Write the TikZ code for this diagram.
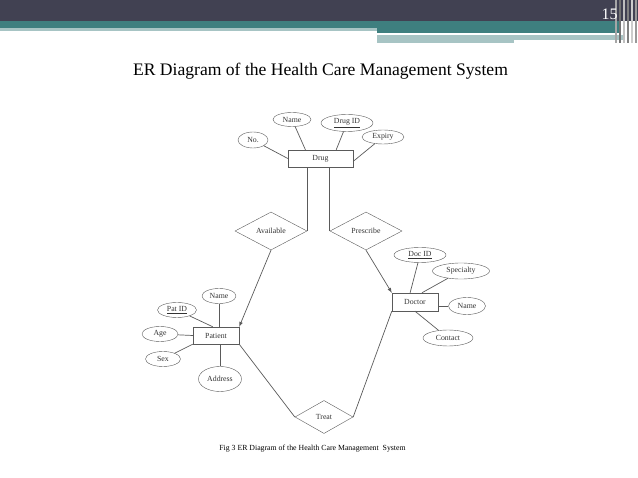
\documentclass[tikz,border=0pt]{standalone}
\usepackage{fontspec}
\setmainfont{Liberation Serif}
\usetikzlibrary{arrows,shapes.geometric}
\definecolor{hdrdark}{RGB}{65,65,82}
\definecolor{hdrteal}{RGB}{62,127,127}
\definecolor{hdrlight}{RGB}{167,196,196}
\definecolor{erline}{RGB}{90,90,90}
\def\lblfont{\fontsize{7.8}{8}\selectfont}

\begin{document}
\begin{tikzpicture}[x=1pt,y=-1pt,
    ent/.style={draw=erline,rectangle,minimum width=46pt,minimum height=17pt,inner sep=0pt,font=\lblfont,text=black!80},
    attr/.style={draw=erline,ellipse,minimum height=15pt,inner sep=0pt,font=\lblfont,text=black!80},
    rel/.style={draw=erline,diamond,inner sep=0pt,font=\lblfont,text=black!80},
    con/.style={erline,line width=0.7pt}]
        \useasboundingbox (0,0) rectangle (638,478);
        %
        % slide header
        \fill[hdrdark] (0,0) rectangle (638,21);
        \fill[hdrteal] (0,21) rectangle (620,28);
        \fill[hdrlight] (0,28) rectangle (377,31);
        \fill[hdrteal] (377,28) rectangle (620,33);
        \fill[hdrlight] (377,35) rectangle (514,43);
        \fill[hdrlight] (514,35) rectangle (625,40);
        \foreach \sx/\sc in {615/35,619/55,623/25,627/50,631/20,635/40}
          \fill[black!\sc] (\sx,0) rectangle +(2,43);
        \node[text=white,font=\fontsize{16}{16}\selectfont,anchor=base] (pgno) at (609.5,20) {15};
        %
        \node[anchor=base,font=\fontsize{17.6}{18}\selectfont] (title) at (320.5,76) {ER Diagram of the Health Care Management System};
        %
        % entities
        \node[ent,minimum width=65pt] (drug) at (320.5,158.5) {Drug};
        \node[ent] (patient) at (216,335.5) {Patient};
        \node[ent,minimum height=18pt] (doctor) at (415,302) {Doctor};
        %
        % relationships
        \node[rel,minimum width=72pt,minimum height=38pt] (avail) at (271,231) {Available};
        \node[rel,minimum width=72pt,minimum height=38pt] (prescr) at (366,231) {Prescribe};
        \node[rel,minimum width=58pt,minimum height=33pt] (treat) at (324,417) {Treat};
        %
        % drug attributes
        \node[attr,minimum width=30pt,minimum height=16pt] (dno) at (253,140) {No.};
        \node[attr,minimum width=38pt,minimum height=14pt] (dname) at (292,119.5) {Name};
        \node[attr,minimum width=52pt,minimum height=17pt] (drugid) at (347,123) {\underline{Drug ID}};
        \node[attr,minimum width=42pt,minimum height=14pt] (dexpiry) at (383,137) {Expiry};
        \draw[con] (dno) -- (drug.west);
        \draw[con] (dname) -- (drug.150);
        \draw[con] (drugid) -- (drug.29);
        \draw[con] (dexpiry) -- (drug.-5);
        %
        % patient attributes
        \node[attr,minimum width=34pt] (pname) at (219,296) {Name};
        \node[attr,minimum width=39pt] (patid) at (177,310) {\underline{Pat ID}};
        \node[attr,minimum width=36pt] (page) at (160,334) {Age};
        \node[attr,minimum width=35pt] (psex) at (163,359) {Sex};
        \node[attr,minimum width=43pt,minimum height=25pt] (paddr) at (220,379) {Address};
        \draw[con] (pname) -- (pname |- patient.north);
        \draw[con] (patid) -- (patient.110);
        \draw[con] (page) -- (patient.west);
        \draw[con] (psex) -- (patient.south west);
        \draw[con] (paddr) -- (paddr |- patient.south);
        %
        % doctor attributes
        \node[attr,minimum width=52pt] (docid) at (420,255) {\underline{Doc ID}};
        \node[attr,minimum width=57pt,minimum height=16pt] (dspec) at (461,271) {Specialty};
        \node[attr,minimum width=37pt,minimum height=17pt] (dcname) at (467,306) {Name};
        \node[attr,minimum width=50pt,minimum height=16pt] (dcontact) at (448,338) {Contact};
        \draw[con] (docid) -- (doctor.118);
        \draw[con] (dspec) -- (doctor.53);
        \draw[con] (dcname) -- (dcname -| doctor.east);
        \draw[con] (dcontact) -- (doctor.south);
        %
        % relationship links
        \draw[con] (avail.east) -- (avail.east |- drug.south);
        \draw[con] (prescr.west) -- (prescr.west |- drug.south);
        \draw[con,->,>=latex] (avail.south) -- (patient.north east);
        \draw[con,->,>=latex] (prescr.south) -- (doctor.north west);
        \draw[con] (patient.south east) -- (treat.west);
        \draw[con] (treat.east) -- (doctor.south west);
        %
        \node[anchor=base,font=\lblfont] (caption) at (312.5,451) {Fig 3 ER Diagram of the Health Care Management\ \ System};
\end{tikzpicture}
\end{document}
